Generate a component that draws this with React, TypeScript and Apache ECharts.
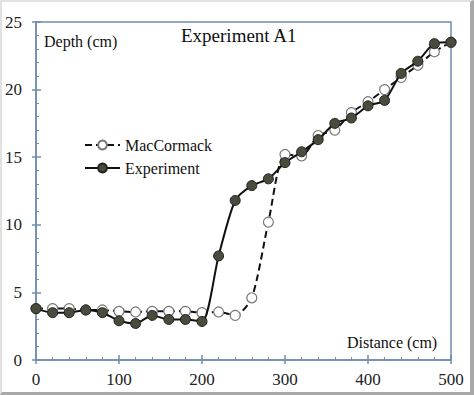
import React, { useEffect, useRef } from "react";
import * as echarts from "echarts";

const distances = [0, 20, 40, 60, 80, 100, 120, 140, 160, 180, 200, 220, 240, 260, 280, 300, 320, 340, 360, 380, 400, 420, 440, 460, 480, 500];
const macCormack = [3.8, 3.8, 3.8, 3.7, 3.7, 3.6, 3.55, 3.6, 3.6, 3.6, 3.5, 3.55, 3.3, 4.6, 10.2, 15.2, 15.1, 16.6, 17.0, 18.3, 19.1, 20.0, 20.9, 21.8, 22.8, 23.5];
const experiment = [3.8, 3.5, 3.5, 3.7, 3.5, 2.9, 2.7, 3.3, 3.0, 3.0, 2.85, 7.7, 11.8, 12.9, 13.4, 14.6, 15.4, 16.3, 17.5, 17.9, 18.8, 19.2, 21.2, 22.1, 23.4, 23.5];

const FONT = "'Liberation Serif', 'DejaVu Serif', serif";
const AXIS = "#6f8db0";

export default function App() {
  const ref = useRef<HTMLDivElement>(null);
  useEffect(() => {
    document.body.style.margin = "0";
    const chart = echarts.init(ref.current!, null, { renderer: "svg" });
    const baseX = { type: "value", min: 0, max: 500, interval: 100, gridIndex: 0 };
    const baseY = { type: "value", min: 0, max: 25, interval: 5, gridIndex: 0 };
    chart.setOption({
      animation: false,
      backgroundColor: "#ffffff",
      grid: { left: 30, right: 19, top: 20, bottom: 32, show: true, borderColor: AXIS, borderWidth: 1.5, backgroundColor: "transparent" },
      xAxis: [
        {
          ...baseX,
          position: "bottom",
          axisLine: { show: true, lineStyle: { color: AXIS, width: 1.5 } },
          axisTick: { show: true, inside: false, length: 4, lineStyle: { color: AXIS, width: 1.5 } },
          axisLabel: { margin: 11, fontFamily: FONT, fontSize: 17, color: "#222" },
          splitLine: { show: false },
        },
        {
          ...baseX,
          position: "bottom",
          axisLine: { show: false },
          axisTick: { show: true, inside: true, length: 5, lineStyle: { color: AXIS, width: 1.5 } },
          minorTick: { show: true, splitNumber: 5, length: 3, lineStyle: { color: AXIS, width: 1 } },
          axisLabel: { show: false },
          splitLine: { show: false },
        },
      ],
      yAxis: [
        {
          ...baseY,
          position: "left",
          axisLine: { show: true, lineStyle: { color: AXIS, width: 1.5 } },
          axisTick: { show: true, inside: false, length: 4, lineStyle: { color: AXIS, width: 1.5 } },
          axisLabel: { margin: 14, fontFamily: FONT, fontSize: 17, color: "#222" },
          splitLine: { show: false },
        },
        {
          ...baseY,
          position: "left",
          axisLine: { show: false },
          axisTick: { show: true, inside: true, length: 5, lineStyle: { color: AXIS, width: 1.5 } },
          minorTick: { show: true, splitNumber: 5, length: 3, lineStyle: { color: AXIS, width: 1 } },
          axisLabel: { show: false },
          splitLine: { show: false },
        },
      ],
      legend: {
        orient: "vertical",
        left: 77,
        top: 130,
        itemWidth: 35,
        itemHeight: 11,
        itemGap: 7,
        textStyle: { fontFamily: FONT, fontSize: 16, color: "#111" },
        data: ["MacCormack", "Experiment"],
      },
      series: [
        {
          name: "MacCormack",
          type: "line",
          xAxisIndex: 0,
          yAxisIndex: 0,
          smooth: 0.25,
          data: distances.map((d, i) => [d, macCormack[i]]),
          symbol: "circle",
          symbolSize: 10,
          lineStyle: { color: "#111", width: 2, type: [7, 4] },
          itemStyle: { color: "#ffffff", borderColor: "#777", borderWidth: 1.2 },
          z: 2,
        },
        {
          name: "Experiment",
          type: "line",
          xAxisIndex: 0,
          yAxisIndex: 0,
          smooth: 0.25,
          data: distances.map((d, i) => [d, experiment[i]]),
          symbol: "circle",
          symbolSize: 10,
          lineStyle: { color: "#111", width: 2 },
          itemStyle: { color: "#4b4b3c", borderColor: "#222", borderWidth: 1 },
          z: 3,
        },
      ],
      graphic: [
        { type: "text", left: 42, top: 31, style: { text: "Depth (cm)", font: `16px ${FONT}`, fill: "#111" } },
        { type: "text", left: 179, top: 24, style: { text: "Experiment A1", font: `19px ${FONT}`, fill: "#111" } },
        { type: "text", left: 345, top: 332, style: { text: "Distance (cm)", font: `16px ${FONT}`, fill: "#111" } },
      ],
    });
    return () => chart.dispose();
  }, []);
  return (
    <div
      style={{
        position: "fixed",
        left: 0,
        top: 0,
        width: 474,
        height: 395,
        boxSizing: "border-box",
        borderLeft: "2px solid #e2e2e2",
        borderTop: "2px solid #e2e2e2",
        borderRight: "4px solid #a8a8a8",
        borderBottom: "3px solid #a8a8a8",
        background: "#fff",
      }}
    >
      <div ref={ref} style={{ width: 468, height: 390 }} />
    </div>
  );
}
